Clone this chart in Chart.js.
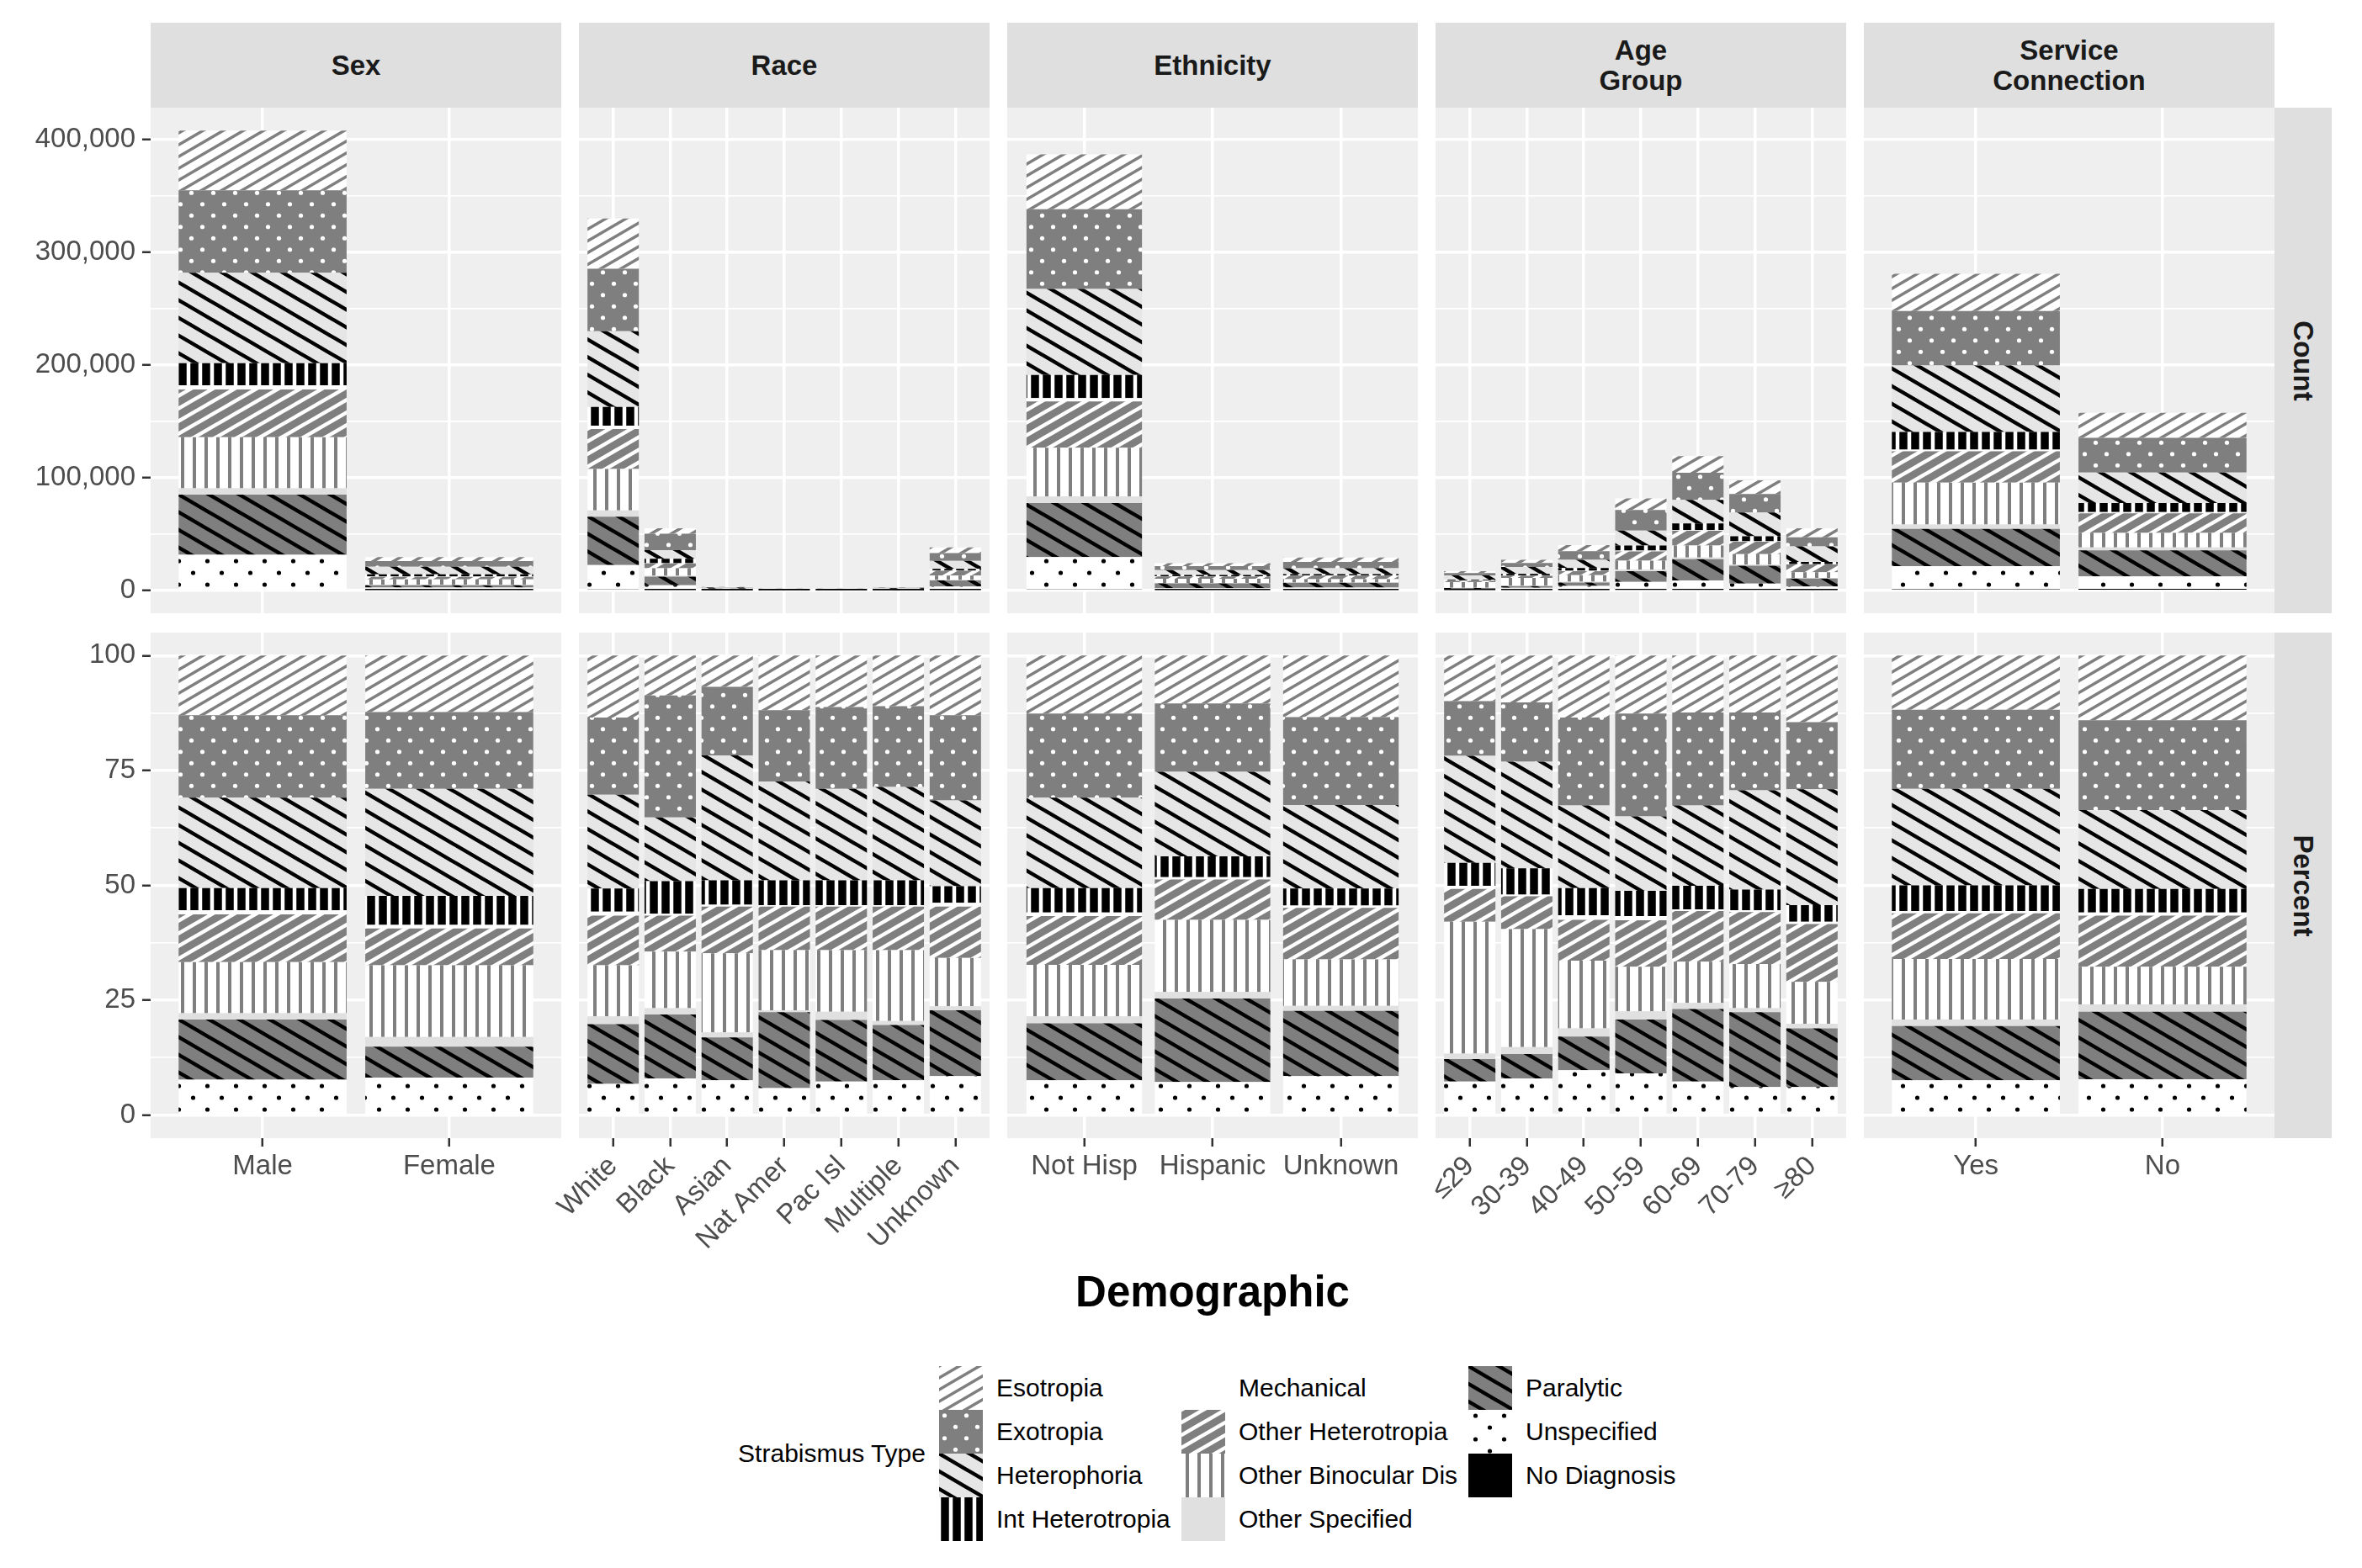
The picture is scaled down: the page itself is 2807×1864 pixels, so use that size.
<!DOCTYPE html>
<html>
<head>
<meta charset="utf-8">
<script src="https://cdn.jsdelivr.net/npm/chart.js@4.4.1/dist/chart.umd.min.js"></script>
<style>
  body { margin: 0; background: #fff; font-family: "Liberation Sans", Arial, Helvetica, sans-serif; }
  #page { position: relative; width: 2807px; height: 1864px; overflow: hidden; background: #fff; }
  .strip { position: absolute; background: #dfdfdf; color: #1a1a1a; font-weight: bold; font-size: 33px;
           line-height: 36px; display: flex; align-items: center; justify-content: center; text-align: center; }
  .strip.side span { display: block; transform: rotate(90deg); white-space: nowrap; }
  .txt { position: absolute; white-space: nowrap; color: #000; }
</style>
</head>
<body>
<div id="page"></div>
<script>
// Strabismus types, stacking order bottom -> top
const types = ['No Diagnosis', 'Unspecified', 'Paralytic', 'Other Specified', 'Other Binocular Dis',
  'Other Heterotropia', 'Mechanical', 'Int Heterotropia', 'Heterophoria', 'Exotropia', 'Esotropia'];

const facetNames = ['Sex', 'Race', 'Ethnicity', 'Age\nGroup', 'Service\nConnection'];
const rowNames = ['Count', 'Percent'];

// totals = height of the bar in the Count row, shares = percent of each type (same order as types)
const sexLabels = ['Male', 'Female'];
const sexTotals = [408000, 29500];
const sexShares = [
  [0.3, 7.4, 13.1, 1.4, 11.1, 10.4, 0.9, 4.8, 19.7, 17.9, 13.0],
  [0.3, 7.9, 6.7, 2.1, 15.6, 8.0, 0.8, 6.3, 23.3, 16.7, 12.3]
];

const raceLabels = ['White', 'Black', 'Asian', 'Nat Amer', 'Pac Isl', 'Multiple', 'Unknown'];
const raceTotals = [330000, 55000, 3000, 1500, 1500, 2500, 38000];
const raceShares = [
  [0.3, 6.5, 13.0, 1.7, 11.1, 10.8, 0.9, 5.0, 20.4, 16.8, 13.5],
  [0.3, 7.7, 13.9, 1.4, 12.3, 7.8, 0.4, 7.1, 13.9, 26.5, 8.7],
  [0.3, 7.3, 9.3, 1.1, 17.2, 10.2, 0.4, 5.3, 27.2, 14.9, 6.8],
  [0.3, 5.6, 16.5, 0.4, 13.1, 9.5, 0.3, 5.4, 21.5, 15.5, 11.9],
  [0.3, 7.0, 13.4, 1.8, 13.4, 9.5, 0.3, 5.4, 19.9, 17.8, 11.2],
  [0.3, 7.3, 12.0, 0.9, 15.4, 9.5, 0.3, 5.4, 20.3, 17.6, 11.0],
  [0.3, 8.2, 14.3, 0.9, 10.5, 11.2, 0.8, 3.6, 18.7, 18.5, 13.0]
];

const ethLabels = ['Not Hisp', 'Hispanic', 'Unknown'];
const ethTotals = [387000, 24000, 29000];
const ethShares = [
  [0.3, 7.3, 12.4, 1.5, 11.2, 10.6, 0.8, 5.3, 19.7, 18.3, 12.6],
  [0.3, 6.9, 18.2, 1.4, 15.7, 8.8, 0.5, 4.5, 18.4, 14.9, 10.4],
  [0.3, 8.2, 14.2, 1.1, 10.1, 11.2, 0.5, 3.7, 18.2, 19.1, 13.4]
];

const ageLabels = ['≤29', '30-39', '40-49', '50-59', '60-69', '70-79', '≥80'];
const ageTotals = [17000, 27000, 40000, 81500, 119000, 97500, 55000];
const ageShares = [
  [0.3, 7.0, 4.9, 1.2, 28.7, 7.1, 0.7, 5.0, 23.3, 11.9, 9.9],
  [0.3, 7.7, 5.3, 1.5, 25.7, 7.1, 0.4, 5.7, 23.2, 12.9, 10.2],
  [0.3, 9.5, 7.3, 1.8, 14.7, 8.9, 1.0, 5.9, 18.0, 19.1, 13.5],
  [0.3, 8.8, 11.7, 1.8, 9.7, 10.1, 0.9, 5.5, 16.2, 22.4, 12.6],
  [0.3, 7.0, 15.8, 1.3, 9.0, 11.0, 0.4, 5.1, 17.5, 20.2, 12.4],
  [0.3, 5.8, 16.3, 0.9, 9.6, 11.3, 0.4, 4.5, 21.6, 16.9, 12.4],
  [0.3, 5.8, 12.8, 1.0, 9.1, 12.6, 0.5, 3.6, 25.2, 14.6, 14.5]
];

const svcLabels = ['Yes', 'No'];
const svcTotals = [281000, 157500];
const svcShares = [
  [0.3, 7.3, 11.8, 1.4, 13.2, 9.9, 0.5, 5.6, 21.0, 17.2, 11.8],
  [0.3, 7.5, 14.7, 1.6, 8.2, 11.1, 0.7, 5.1, 17.2, 19.5, 14.1]
];

// y axis breaks
const countMajor = [0, 100000, 200000, 300000, 400000];
const countMinor = [50000, 150000, 250000, 350000];
const pctMajor = [0, 25, 50, 75, 100];
const pctMinor = [12.5, 37.5, 62.5, 87.5];

const facets = [
  { labels: sexLabels, totals: sexTotals, shares: sexShares, rot: 0 },
  { labels: raceLabels, totals: raceTotals, shares: raceShares, rot: 45 },
  { labels: ethLabels, totals: ethTotals, shares: ethShares, rot: 0 },
  { labels: ageLabels, totals: ageTotals, shares: ageShares, rot: 45 },
  { labels: svcLabels, totals: svcTotals, shares: svcShares, rot: 0 }
];

// ---- patterns ----
function tile(w, h, draw) {
  const c = document.createElement('canvas');
  c.width = w; c.height = h;
  draw(c.getContext('2d'), w, h);
  return c;
}
function stripes(bg, fg, w, h, lw, dir) {
  return tile(w, h, g => {
    g.fillStyle = bg; g.fillRect(0, 0, w, h);
    g.strokeStyle = fg; g.lineWidth = lw;
    for (let k = -1; k <= 1; k++) {
      g.beginPath();
      if (dir === 'up') { g.moveTo(k * w - w, 2 * h); g.lineTo(k * w + 2 * w, -h); }
      else { g.moveTo(k * w - w, -h); g.lineTo(k * w + 2 * w, 2 * h); }
      g.stroke();
    }
  });
}
function bars(bg, fg, w, lw) {
  return tile(w, 4, g => {
    g.fillStyle = bg; g.fillRect(0, 0, w, 4);
    g.fillStyle = fg; g.fillRect((w - lw) / 2, 0, lw, 4);
  });
}
function dots(bg, fg, w, h, r) {
  return tile(w, h, g => {
    g.fillStyle = bg; g.fillRect(0, 0, w, h);
    g.fillStyle = fg;
    [[w / 4, h / 4], [3 * w / 4, 3 * h / 4]].forEach(p => {
      g.beginPath(); g.arc(p[0], p[1], r, 0, Math.PI * 2); g.fill();
    });
  });
}
function solid(col) {
  return tile(4, 4, g => { g.fillStyle = col; g.fillRect(0, 0, 4, 4); });
}
const tiles = [
  solid('#000000'),                                   // No Diagnosis
  dots('#ffffff', '#000000', 34, 28, 2.6),            // Unspecified
  stripes('#7f7f7f', '#000000', 36, 21, 4.5, 'down'), // Paralytic
  solid('#e0e0e0'),                                   // Other Specified
  bars('#ffffff', '#7f7f7f', 14, 4),                  // Other Binocular Dis
  stripes('#7f7f7f', '#ffffff', 26, 15, 4.5, 'up'),   // Other Heterotropia
  solid('#ffffff'),                                   // Mechanical
  bars('#ffffff', '#000000', 14, 9.5),                // Int Heterotropia
  stripes('#e6e6e6', '#000000', 36, 21, 4.5, 'down'), // Heterophoria
  dots('#7f7f7f', '#ffffff', 26, 27, 2.6),            // Exotropia
  stripes('#ffffff', '#7f7f7f', 24, 14, 3.5, 'up')    // Esotropia
];
const patCtx = document.createElement('canvas').getContext('2d');
const patterns = tiles.map(t => patCtx.createPattern(t, 'repeat'));

// ---- layout ----
const page = document.getElementById('page');
const panelLeft = [179, 688, 1197, 1706, 2215];
const panelW = 488, panelH = 601;
const rowTop = [128, 752];

Chart.defaults.font.family = '"Liberation Sans", Arial, Helvetica, sans-serif';
Chart.defaults.animation = false;

const panelBg = {
  id: 'panelBg',
  beforeDraw(chart) {
    const a = chart.chartArea, ctx = chart.ctx;
    ctx.save();
    ctx.fillStyle = '#efefef';
    ctx.fillRect(a.left, a.top, a.right - a.left, a.bottom - a.top);
    ctx.restore();
  }
};

function fmt(v) { return v.toLocaleString('en-US'); }

facetNames.forEach((name, c) => {
  const s = document.createElement('div');
  s.className = 'strip';
  s.style.cssText = `left:${panelLeft[c]}px;top:27px;width:${panelW}px;height:101px`;
  s.innerHTML = name.split('\n').join('<br>');
  page.appendChild(s);
});
rowNames.forEach((name, r) => {
  const s = document.createElement('div');
  s.className = 'strip side';
  s.style.cssText = `left:${panelLeft[4] + panelW}px;top:${rowTop[r]}px;width:68px;height:${panelH}px`;
  s.innerHTML = `<span>${name}</span>`;
  page.appendChild(s);
});

facets.forEach((f, c) => {
  [0, 1].forEach(r => {
    const leftCol = c === 0, bottom = r === 1;
    const padL = leftCol ? 179 : 30;
    const padB = bottom ? 240 : 0;
    const w = panelW + padL, h = panelH + padB;
    const cv = document.createElement('canvas');
    cv.width = w; cv.height = h;
    cv.style.cssText = `position:absolute;left:${panelLeft[c] - padL}px;top:${rowTop[r]}px;width:${w}px;height:${h}px`;
    page.appendChild(cv);

    const major = r === 0 ? countMajor : pctMajor;
    const yTicks = (r === 0 ? countMajor.concat(countMinor) : pctMajor.concat(pctMinor)).sort((a, b) => a - b);
    const yMax = r === 0 ? Math.max(...sexTotals) : 100;
    const n = f.labels.length;

    const datasets = types.map((t, k) => ({
      label: t,
      data: f.labels.map((_, i) => ({
        x: i + 1,
        y: r === 0 ? f.totals[i] * f.shares[i][k] / 100 : f.shares[i][k]
      })),
      backgroundColor: patterns[k],
      borderWidth: 0,
      categoryPercentage: 0.9,
      barPercentage: 1
    }));

    new Chart(cv, {
      type: 'bar',
      data: { datasets: datasets },
      plugins: [panelBg],
      options: {
        responsive: false,
        animation: false,
        layout: { padding: 0 },
        plugins: { legend: { display: false }, tooltip: { enabled: false } },
        scales: {
          x: {
            type: 'linear',
            stacked: true,
            offset: false,
            min: 0.4,
            max: n + 0.6,
            afterBuildTicks: s => { s.ticks = f.labels.map((_, i) => ({ value: i + 1 })); },
            afterFit: s => {
              s.height = padB;
              s.paddingLeft = 0; s.paddingRight = 0; s.paddingTop = 0; s.paddingBottom = 0;
            },
            border: { display: false },
            grid: { offset: false, color: '#ffffff', lineWidth: 3.5, drawTicks: bottom, tickLength: 10, tickWidth: 2.5, tickColor: '#333333' },
            ticks: {
              display: bottom, autoSkip: false, maxRotation: f.rot, minRotation: f.rot, padding: 4,
              color: '#4d4d4d', font: { size: 33 },
              callback: v => f.labels[Math.round(v) - 1]
            }
          },
          y: {
            stacked: true,
            min: -0.05 * yMax,
            max: 1.05 * yMax,
            afterBuildTicks: s => { s.ticks = yTicks.map(v => ({ value: v })); },
            afterFit: s => {
              s.width = padL;
              s.paddingLeft = 0; s.paddingRight = 0; s.paddingTop = 0; s.paddingBottom = 0;
            },
            border: { display: false },
            grid: {
              color: '#ffffff',
              lineWidth: ctx => major.includes(ctx.tick.value) ? 3.5 : 1.8,
              drawTicks: leftCol, tickLength: 10, tickWidth: 2.5,
              tickColor: ctx => major.includes(ctx.tick.value) ? '#333333' : 'rgba(0,0,0,0)'
            },
            ticks: {
              display: leftCol, padding: 8, color: '#4d4d4d', font: { size: 33 },
              callback: v => major.includes(v) ? fmt(v) : ''
            }
          }
        }
      }
    });
  });
});

// axis title
const title = document.createElement('div');
title.className = 'txt';
title.style.cssText = `left:${panelLeft[0]}px;top:1506px;width:${panelLeft[4] + panelW - panelLeft[0]}px;text-align:center;font-size:51px;font-weight:bold;line-height:60px`;
title.textContent = 'Demographic';
page.appendChild(title);

// legend
const legTitle = document.createElement('div');
legTitle.className = 'txt';
legTitle.style.cssText = 'left:700px;top:1710px;width:400px;text-align:right;font-size:30px;line-height:36px';
legTitle.textContent = 'Strabismus Type';
page.appendChild(legTitle);

const legendOrder = types.slice().reverse();
const keyX = [1116, 1404, 1745];
legendOrder.forEach((t, i) => {
  const col = Math.floor(i / 4), row = i % 4;
  const k = types.indexOf(t);
  const sw = document.createElement('canvas');
  sw.width = 52; sw.height = 52;
  sw.style.cssText = `position:absolute;left:${keyX[col]}px;top:${1624 + row * 52}px;width:52px;height:52px`;
  const g = sw.getContext('2d');
  g.fillStyle = g.createPattern(tiles[k], 'repeat');
  g.fillRect(0, 0, 52, 52);
  page.appendChild(sw);
  const lab = document.createElement('div');
  lab.className = 'txt';
  lab.style.cssText = `left:${keyX[col] + 68}px;top:${1624 + row * 52 + 8}px;font-size:30px;line-height:36px`;
  lab.textContent = t;
  page.appendChild(lab);
});
</script>
</body>
</html>
